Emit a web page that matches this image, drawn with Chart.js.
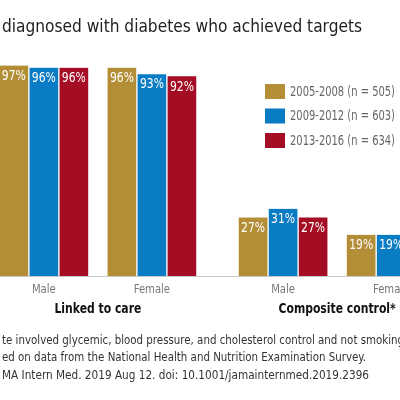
<!DOCTYPE html>
<html>
<head>
<meta charset="utf-8">
<script src="https://cdn.jsdelivr.net/npm/chart.js@4.4.1/dist/chart.umd.min.js"></script>
<style>
  html, body { margin: 0; padding: 0; background: #fff; }
  #wrap { position: relative; width: 400px; height: 400px; overflow: hidden; }
  #chart { position: absolute; left: -60px; top: 0; }
  .narrow { font-family: "Liberation Sans Narrow", "DejaVu Sans Condensed", Roboto, sans-serif; transform-origin: 0 50%; }
  .title { position: absolute; left: 2px; top: 15px; font-size: 18.5px; color: #222; white-space: nowrap; }
  .note { position: absolute; left: 2px; font-size: 12.5px; color: #333; white-space: nowrap; }
</style>
</head>
<body>
<div id="wrap">
  <canvas id="chart" width="520" height="400"></canvas>
  <div class="title narrow" data-w="360">diagnosed with diabetes who achieved targets</div>
  <div class="note narrow" style="top:332px" data-like="n2">te involved glycemic, blood pressure, and cholesterol control and not smoking.</div>
  <div class="note narrow" style="top:349px" id="n2" data-w="364">ed on data from the National Health and Nutrition Examination Survey.</div>
  <div class="note narrow" style="top:367px" data-w="367">MA Intern Med. 2019 Aug 12. doi: 10.1001/jamainternmed.2019.2396</div>
</div>
<script>
// chart values
const groups = ["Linked to care", "Composite control*"];
const sexes = ["Male", "Female", "Male", "Female"];
const periods = ["2005-2008 (n = 505)", "2009-2012 (n = 603)", "2013-2016 (n = 634)"];
const colors = ["#b38e37", "#0a7cc4", "#a50d24"];
const v2005 = [97, 96, 27, 19];
const v2009 = [96, 93, 31, 19];
const v2013 = [96, 92, 27, 18];

// where each sex column sits on a fine category axis (wider gap between the two groups)
const slots = [0, 14, 31, 45];
const slotCount = 46;

const FONT = '"Liberation Sans Narrow", "DejaVu Sans Condensed", Roboto, sans-serif';
const SHIFT = 60; // canvas is moved 60px to the left
const SQUEEZE = 0.86; // the original uses a condensed face

// squeeze the html text to the widths seen in the picture
let scales = {};
document.querySelectorAll(".narrow[data-w]").forEach(el => {
  const s = +el.dataset.w / el.getBoundingClientRect().width;
  scales[el.id] = s;
  el.style.transform = "scaleX(" + s + ")";
});
document.querySelectorAll(".narrow[data-like]").forEach(el => {
  el.style.transform = "scaleX(" + scales[el.dataset.like] + ")";
});

function spread(values) {
  let out = new Array(slotCount).fill(null);
  slots.forEach((s, i) => { out[s] = values[i]; });
  return out;
}

let labels = new Array(slotCount).fill("");
slots.forEach((s, i) => { labels[s] = sexes[i]; });

function narrowText(ctx, text, x, y) {
  ctx.fillText(text, x, y, ctx.measureText(text).width * SQUEEZE);
}

// values inside the bars, axis labels, group names, legend and the grey base line
const extras = {
  id: "extras",
  beforeDatasetsDraw(chart) {
    const ctx = chart.ctx;
    const y = Math.round(chart.chartArea.bottom) + 0.5;
    ctx.save();
    ctx.strokeStyle = "#c8c8c8";
    ctx.lineWidth = 1;
    ctx.beginPath();
    ctx.moveTo(0, y);
    ctx.lineTo(chart.width, y);
    ctx.stroke();
    ctx.restore();
  },
  afterDatasetsDraw(chart) {
    const ctx = chart.ctx;
    const xs = chart.scales.x;
    const bottom = chart.chartArea.bottom;
    ctx.save();
    ctx.textAlign = "center";
    ctx.textBaseline = "middle";
    ctx.fillStyle = "#fff";
    ctx.font = "14px " + FONT;
    chart.data.datasets.forEach((ds, di) => {
      chart.getDatasetMeta(di).data.forEach((bar, i) => {
        if (ds.data[i] == null) return;
        ctx.fillText(ds.data[i] + "%", bar.x, bar.y + 10.5, 24);
      });
    });

    // Male / Female under each column
    ctx.fillStyle = "#777";
    ctx.font = "13px " + FONT;
    chart.data.labels.forEach((l, i) => {
      if (l) narrowText(ctx, l, xs.getPixelForValue(i), bottom + 14);
    });

    ctx.fillStyle = "#111";
    ctx.font = "bold 14px " + FONT;
    groups.forEach((g, gi) => {
      const a = xs.getPixelForValue(slots[gi * 2]);
      const b = xs.getPixelForValue(slots[gi * 2 + 1]);
      narrowText(ctx, g, (a + b) / 2, bottom + 33);
    });

    ctx.textAlign = "left";
    ctx.font = "13.5px " + FONT;
    periods.forEach((p, i) => {
      const top = 84 + i * 24.5;
      ctx.fillStyle = colors[i];
      ctx.fillRect(265 + SHIFT, top, 20, 15);
      ctx.fillStyle = "#666";
      ctx.fillText(p, 290 + SHIFT, top + 8, 105);
    });
    ctx.restore();
  }
};

const ctx = document.getElementById("chart").getContext("2d");
const chart = new Chart(ctx, {
  type: "bar",
  data: {
    labels: labels,
    datasets: [v2005, v2009, v2013].map((v, i) => ({
      label: periods[i],
      data: spread(v),
      backgroundColor: colors[i],
      borderColor: "#fff",
      borderWidth: { left: 1, right: 1, top: 0, bottom: 0 },
      borderSkipped: false,
      barThickness: 30,
      clip: false
    }))
  },
  options: {
    responsive: false,
    animation: false,
    layout: { padding: { left: 100, right: 65, top: 59, bottom: 124 } },
    plugins: { legend: { display: false }, tooltip: { enabled: false } },
    scales: {
      x: { display: false },
      y: { display: false, min: 0, max: 100 }
    }
  },
  plugins: [extras]
});
</script>
</body>
</html>
